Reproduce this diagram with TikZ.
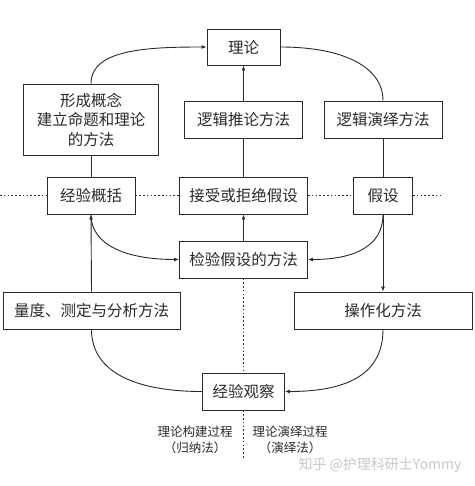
\documentclass[tikz,border=0pt]{standalone}
\usepackage{fontspec}
\setmainfont{Noto Sans CJK SC}
\usetikzlibrary{arrows.meta}
\definecolor{ink}{HTML}{2A2A2A}
\begin{document}
\begin{tikzpicture}[x=1pt,y=-1pt,
  box/.style={draw=ink,text=ink,line width=0.9pt,fill=white,inner sep=0pt,
    font=\fontsize{15.5}{19.5}\selectfont,align=center,minimum height=37pt},
  link/.style={draw=ink,line width=0.9pt},
  arr/.style={link,-{Latex[length=5pt,width=4pt]}},
  dotline/.style={draw=ink,line width=0.9pt,dash pattern=on 1.6pt off 2.2pt},
  note/.style={text=ink,font=\fontsize{12.5}{16}\selectfont,align=center,inner sep=0pt}]
\useasboundingbox (0,0) rectangle (474,486);

\node[box,minimum width=73pt,minimum height=36pt] (T) at (243.5,47) {理论};
\node[box,minimum width=135pt,minimum height=71pt] (F) at (91,119.5) {形成概念\\建立命题和理论\\的方法};
\node[box,minimum width=118pt] (R) at (243.5,119.5) {逻辑推论方法};
\node[box,minimum width=118pt] (D) at (383,119.5) {逻辑演绎方法};
\node[box,minimum width=88pt] (G) at (91,195.5) {经验概括};
\node[box,minimum width=128pt] (A) at (243.5,195.5) {接受或拒绝假设};
\node[box,minimum width=59pt] (H) at (383,195.5) {假设};
\node[box,minimum width=128pt] (C) at (243.5,259.5) {检验假设的方法};
\node[box,minimum width=177pt] (M) at (91.5,310.5) {量度、测定与分析方法};
\node[box,minimum width=178pt] (O) at (383,310.5) {操作化方法};
\node[box,minimum width=82pt] (E) at (243.5,391.5) {经验观察};

\coordinate (DL) at (0,195.5);
\coordinate (DR) at (443,195.5);
\coordinate (VB) at (243.5,459);

% dotted guides
\draw[dotline] (DL) -- (G.west);
\draw[dotline] (G.east) -- (A.west);
\draw[dotline] (A.east) -- (H.west);
\draw[dotline] (H.east) -- (DR);
\draw[dotline] (C.south) -- (E.north);
\draw[dotline] (E.south) -- (VB);

% connectors
\draw[arr] (F.north) .. controls +(0,-34) and +(-60,0) .. (T.west);
\draw[link] (T.east) .. controls +(62,0) and +(0,-34) .. (D.north);
\draw[arr] (R.north) -- (T.south);
\draw[link] (F.south) -- (G.north);
\draw[link] (A.north) -- (R.south);
\draw[link] (D.south) -- (H.north);
\draw[arr] (C.north) -- (A.south);
\draw[arr] (M.north) -- (G.south);
\draw[arr] (G.south) .. controls +(0,32) and +(-50,0) .. (C.west);
\draw[arr] (H.south) .. controls +(0,32) and +(46,0) .. (C.east);
\draw[arr] (H.south) -- (O.north);
\draw[link] (M.south) .. controls +(0,45) and +(-62,0) .. (E.west);
\draw[arr] (O.south) .. controls +(0,45) and +(62,0) .. (E.east);

% bottom labels
\node[note] (L1) at (195,440) {理论构建过程\\（归纳法）};
\node[note] (L2) at (290,440) {理论演绎过程\\（演绎法）};
\node[text=black!22,font=\fontsize{14}{16}\selectfont,inner sep=0pt] (W) at (380,465) {知乎 @护理科研士Yommy};
\end{tikzpicture}
\end{document}
